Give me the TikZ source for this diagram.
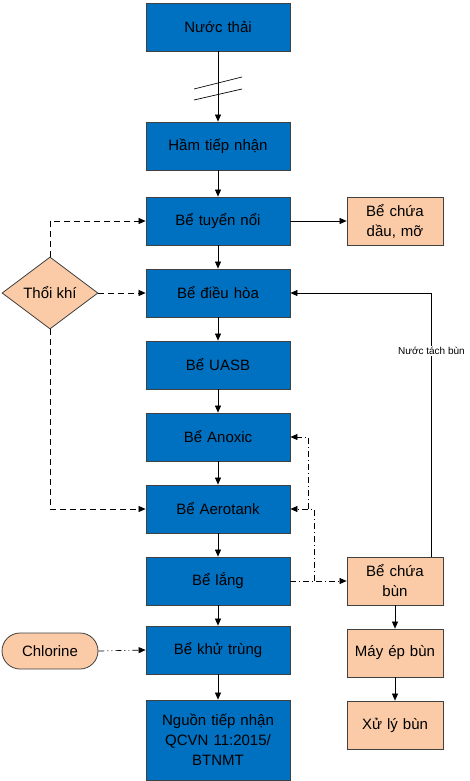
\documentclass[tikz,border=0pt]{standalone}
\usepackage{fontspec}
\setmainfont{Liberation Sans}
\usetikzlibrary{arrows.meta,shapes.geometric,calc}
\definecolor{bluebox}{RGB}{0,112,192}
\definecolor{peach}{RGB}{250,203,166}
\definecolor{edgegray}{RGB}{64,64,64}
\tikzset{
  bluestep/.style={draw=edgegray,line width=0.8pt,fill=bluebox,minimum width=144pt,minimum height=48pt,inner sep=1pt,align=center,text width=140pt,font=\fontsize{15}{20}\selectfont},
  peachstep/.style={draw=edgegray,line width=0.8pt,fill=peach,minimum width=96pt,minimum height=48pt,inner sep=1pt,align=center,text width=94pt,font=\fontsize{15}{20}\selectfont},
  flow/.style={draw=black,line width=0.7pt,-{Triangle[length=7pt,width=6pt]}},
  dashflow/.style={flow,dash pattern=on 6pt off 4pt},
  dotflow/.style={flow,dash pattern=on 6pt off 3pt on 1pt off 3pt},
  dotdotflow/.style={flow,dash pattern=on 6pt off 3pt on 1pt off 3pt on 1pt off 3pt},
}
\begin{document}
\begin{tikzpicture}[x=1pt,y=-1pt]
\useasboundingbox (0,0) rectangle (469,781);
\node[bluestep] (nuoc) at (218,27) {Nước thải};
\node[bluestep] (ham) at (218,146) {Hầm tiếp nhận};
\node[bluestep] (tuyen) at (218,221) {Bể tuyển nổi};
\node[bluestep] (dieuhoa) at (218,293) {Bể điều hòa};
\node[bluestep] (uasb) at (218,365) {Bể UASB};
\node[bluestep] (anoxic) at (218,437) {Bể Anoxic};
\node[bluestep] (aero) at (218,509) {Bể Aerotank};
\node[bluestep] (lang) at (218,581) {Bể lắng};
\node[bluestep] (khu) at (218,650) {Bể khử trùng};
\node[bluestep,minimum height=80pt] (nguon) at (218,740) {Nguồn tiếp nhận\\QCVN 11:2015/\\BTNMT};
\node[peachstep] (dau) at (395,221) {Bể chứa\\dầu, mỡ};
\node[peachstep] (bun) at (395,581) {Bể chứa\\bùn};
\node[peachstep] (ep) at (395,653) {Máy ép bùn};
\node[peachstep] (xl) at (395,725) {Xử lý bùn};
\node[diamond,draw=edgegray,line width=0.8pt,fill=peach,minimum width=96pt,minimum height=72pt,inner sep=0pt,aspect=1.33,font=\fontsize{15}{20}\selectfont] (tk) at (50,293) {Thổi khí};
\node[draw=edgegray,line width=0.8pt,fill=peach,rounded corners=18pt,minimum width=96pt,minimum height=36pt,inner sep=0pt,font=\fontsize{15}{20}\selectfont] (cl) at (50,651) {Chlorine};
% main flow
\draw[flow] (nuoc) -- (ham);
\draw[line width=0.7pt] (194,89) -- (242,77) (194,100) -- (242,89);
\draw[flow] (ham) -- (tuyen);
\draw[flow] (tuyen) -- (dieuhoa);
\draw[flow] (dieuhoa) -- (uasb);
\draw[flow] (uasb) -- (anoxic);
\draw[flow] (anoxic) -- (aero);
\draw[flow] (aero) -- (lang);
\draw[flow] (lang) -- (khu);
\draw[flow] (khu) -- (nguon);
\draw[flow] (tuyen) -- (dau);
\draw[flow] (bun) -- (ep);
\draw[flow] (ep) -- (xl);
% return water
\draw[flow] ([xshift=-12pt]bun.north east) |- (dieuhoa.east)
  node[pos=0.39,fill=white,inner sep=1pt,font=\fontsize{10}{11}\selectfont] {Nước tách bùn};
% air
\draw[dashflow] (tk.north) |- (tuyen.west);
\draw[dashflow] (tk.east) -- (dieuhoa.west);
\draw[dashflow] (tk.south) |- (aero.west);
% sludge recirculation
\coordinate (j1) at (314,581);
\coordinate (j2) at (308,509);
\draw[dotflow] (lang.east) -- (bun.west);
\draw[dotflow] (j1) |- (aero.east);
\draw[dotflow] (j2) |- (anoxic.east);
% chlorine
\draw[dotdotflow] (cl.east) -- (khu.west);
\end{tikzpicture}
\end{document}
